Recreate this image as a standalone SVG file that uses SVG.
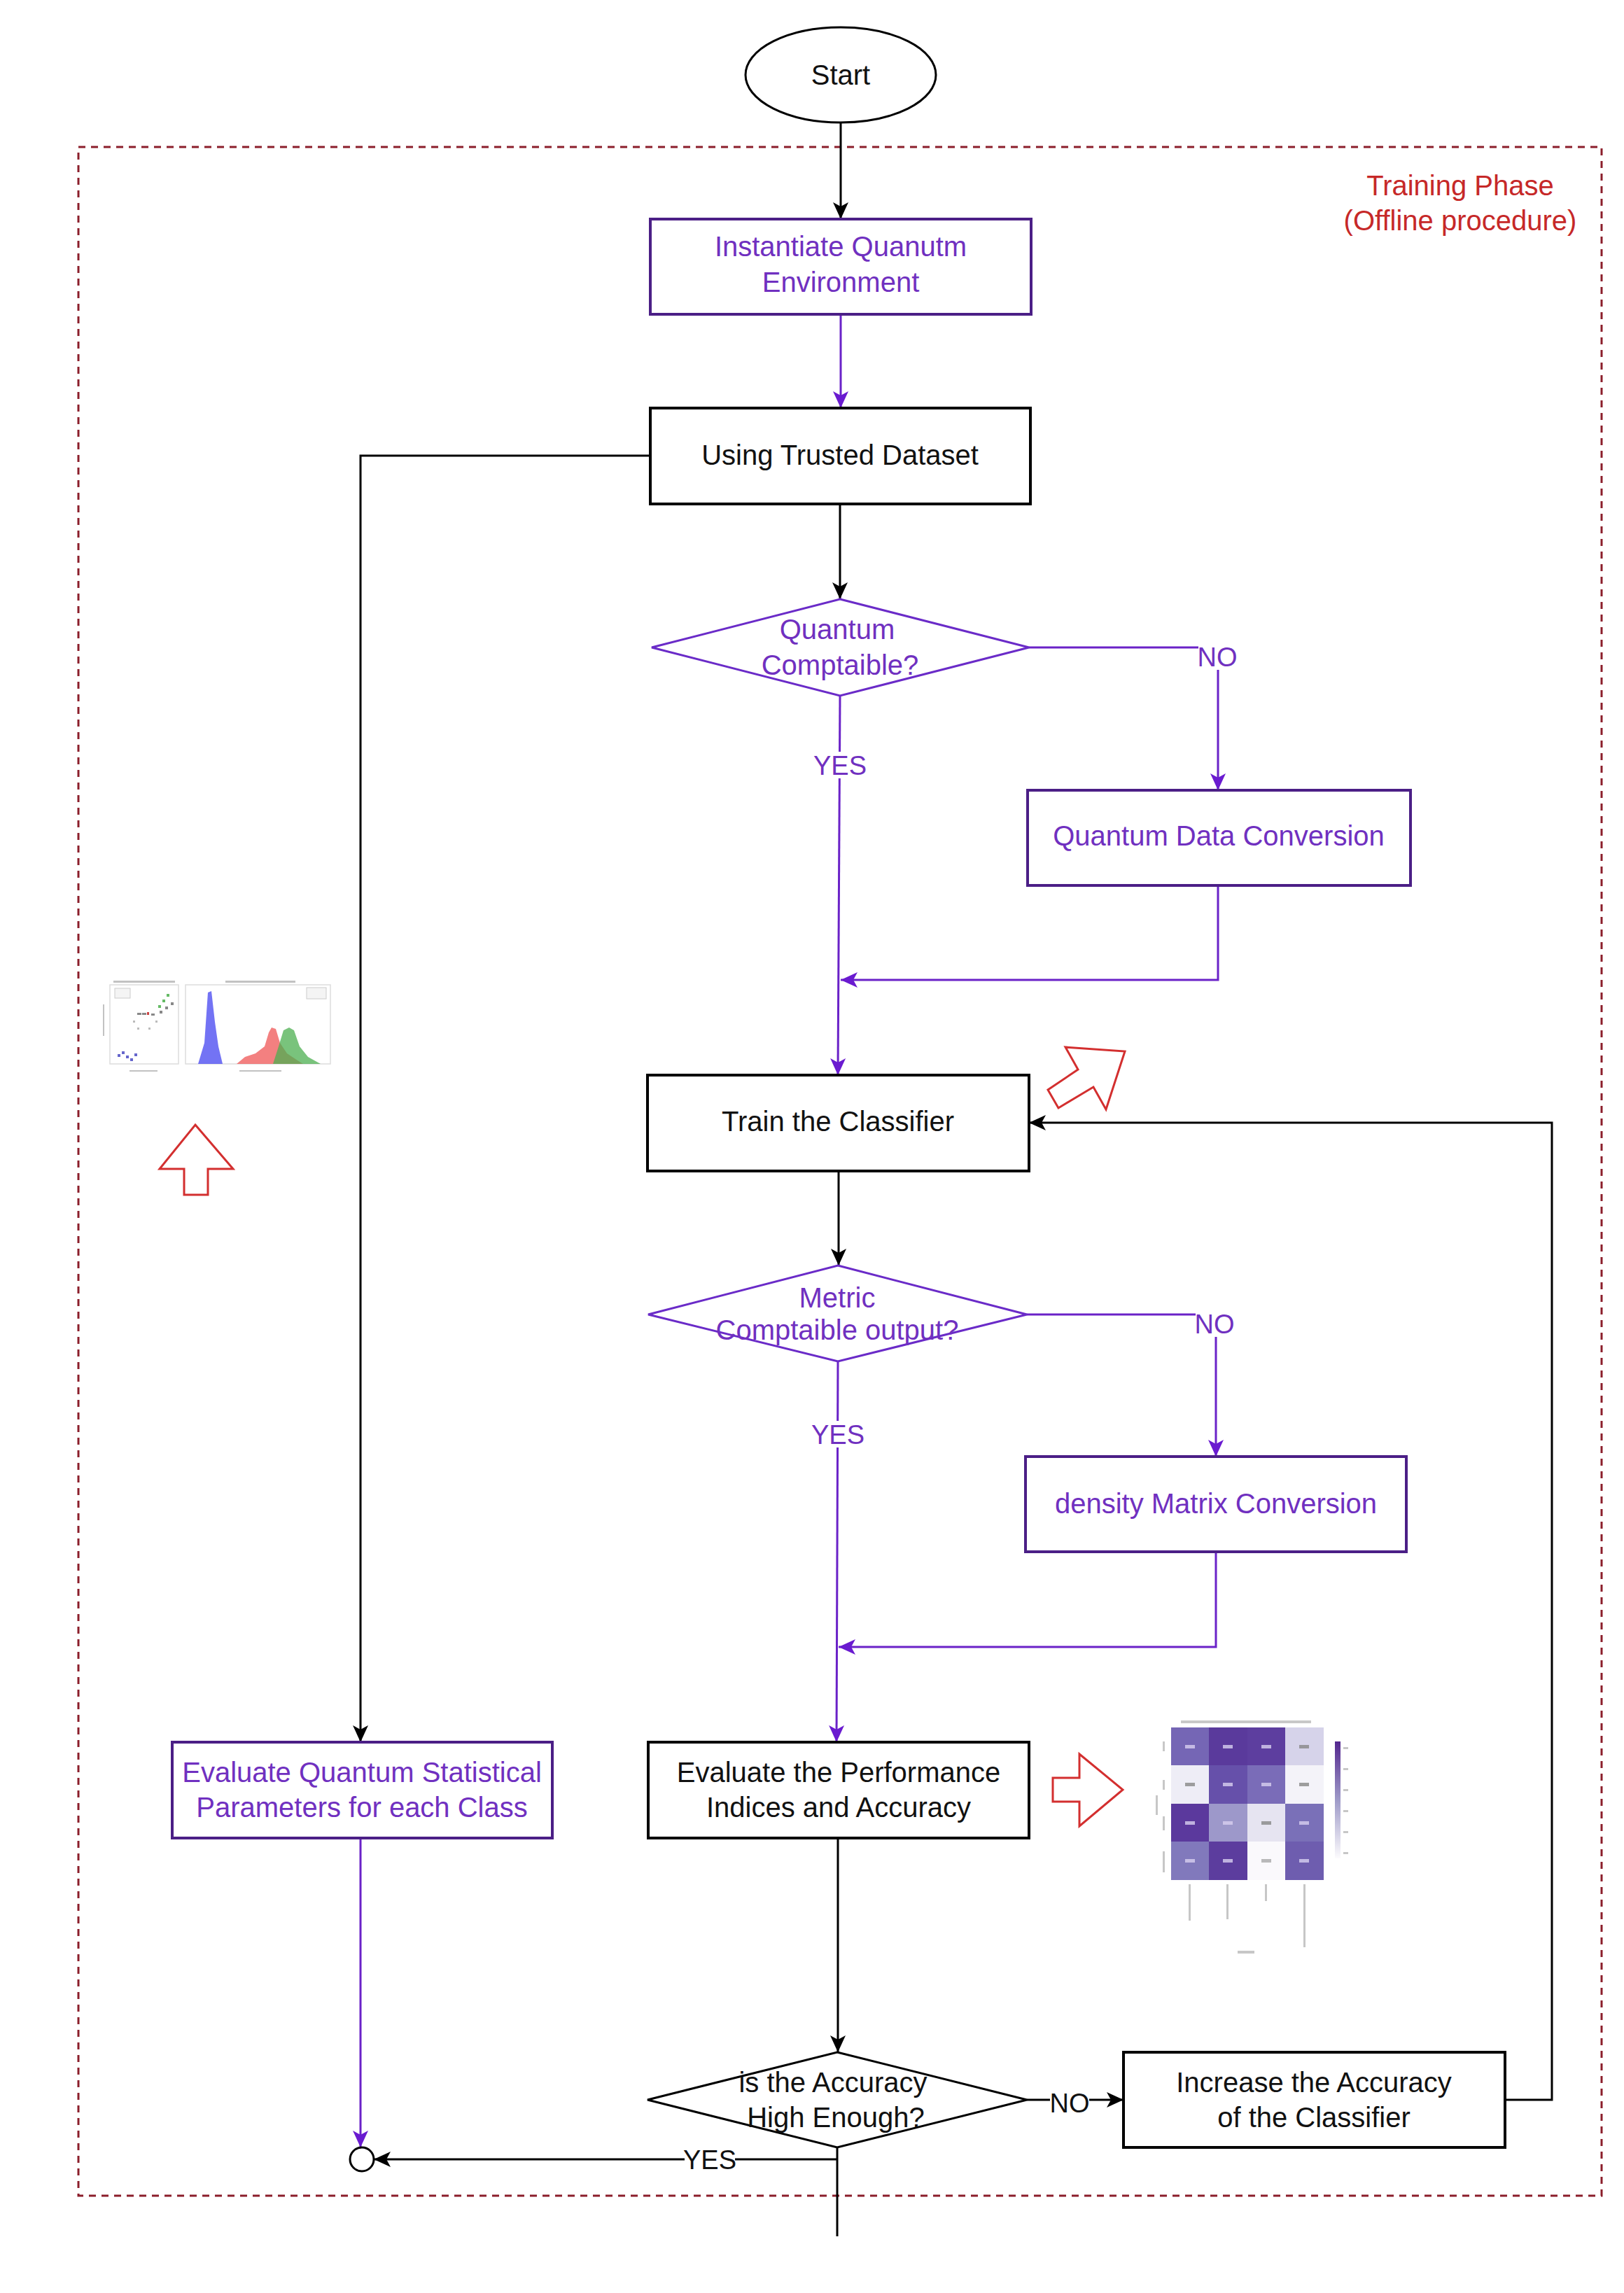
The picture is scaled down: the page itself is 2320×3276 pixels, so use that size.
<svg xmlns="http://www.w3.org/2000/svg" width="2320" height="3276" viewBox="0 0 2320 3276">
<defs>
<style>
.t{font-family:"Liberation Sans",Arial,sans-serif;font-size:40px;text-anchor:middle}
.k{fill:#111}
.p{fill:#7030C0}
.lbl{font-family:"Liberation Sans",Arial,sans-serif;font-size:38px;text-anchor:middle}
.bb{fill:#fff;stroke:#000;stroke-width:4}
.pb{fill:#fff;stroke:#4B1F86;stroke-width:4}
.pd{fill:#fff;stroke:#6A2BC8;stroke-width:3}
.bd{fill:#fff;stroke:#000;stroke-width:3}
.cb{fill:none;stroke:#000;stroke-width:3}
.cp{fill:none;stroke:#6A22C8;stroke-width:3}
.ra{fill:#fff;stroke:#D32F2F;stroke-width:3;stroke-linejoin:miter}
.g{fill:#9a9a9a}
</style>
<marker id="ab" markerUnits="userSpaceOnUse" markerWidth="26" markerHeight="24" refX="24" refY="12" orient="auto"><path d="M0,1 L24,12 L0,23 L6,12 Z" fill="#000"/></marker>
<marker id="ap" markerUnits="userSpaceOnUse" markerWidth="26" markerHeight="24" refX="24" refY="12" orient="auto"><path d="M0,1 L24,12 L0,23 L6,12 Z" fill="#6A1BD0"/></marker>
<linearGradient id="cbar" x1="0" y1="0" x2="0" y2="1"><stop offset="0" stop-color="#54278F"/><stop offset="0.5" stop-color="#9E9AC8"/><stop offset="1" stop-color="#FCFBFD"/></linearGradient>
</defs>
<rect width="2320" height="3276" fill="#fff"/>

<g id="training-phase">
<rect x="112" y="210" width="2176" height="2927" fill="none" stroke="#8B1E2B" stroke-width="3" stroke-dasharray="10 8"/>
<text x="2086" y="279" style="font-family:'Liberation Sans',Arial,sans-serif;font-size:40px;text-anchor:middle;fill:#C62828">Training Phase</text>
<text x="2086" y="329" style="font-family:'Liberation Sans',Arial,sans-serif;font-size:40px;text-anchor:middle;fill:#C62828">(Offline procedure)</text>
</g>

<g id="connectors">
<path class="cb" d="M1201,175 L1201,313" marker-end="url(#ab)"/>
<path class="cp" d="M1201,449 L1201,583" marker-end="url(#ap)"/>
<path class="cb" d="M1200,720 L1200,856" marker-end="url(#ab)"/>
<path class="cp" d="M1470,925 L1740,925 L1740,1129" marker-end="url(#ap)"/>
<path class="cp" d="M1200,994 L1197,1536" marker-end="url(#ap)"/>
<path class="cp" d="M1740,1265 L1740,1400 L1201,1400" marker-end="url(#ap)"/>
<path class="cb" d="M1198,1673 L1198,1808" marker-end="url(#ab)"/>
<path class="cp" d="M1467,1878 L1737,1878 L1737,2081" marker-end="url(#ap)"/>
<path class="cp" d="M1197,1945 L1195,2489" marker-end="url(#ap)"/>
<path class="cp" d="M1737,2217 L1737,2353 L1198,2353" marker-end="url(#ap)"/>
<path class="cb" d="M929,651 L515,651 L515,2489" marker-end="url(#ab)"/>
<path class="cb" d="M1197,2626 L1197,2932" marker-end="url(#ab)"/>
<path class="cb" d="M1467,3000 L1605,3000" marker-end="url(#ab)"/>
<path class="cb" d="M2150,3000 L2217,3000 L2217,1604 L1470,1604" marker-end="url(#ab)"/>
<path class="cb" d="M1196,3068 L1196,3195"/>
<path class="cb" d="M1196,3085 L534,3085" marker-end="url(#ab)"/>
<path class="cp" d="M515,2626 L515,3068" marker-end="url(#ap)"/>
<rect x="1712" y="919" width="56" height="38" fill="#fff"/>
<text class="lbl p" x="1739" y="952">NO</text>
<rect x="1164" y="1074" width="72" height="38" fill="#fff"/>
<text class="lbl p" x="1200" y="1107">YES</text>
<rect x="1708" y="1872" width="56" height="38" fill="#fff"/>
<text class="lbl p" x="1735" y="1905">NO</text>
<rect x="1161" y="2030" width="72" height="38" fill="#fff"/>
<text class="lbl p" x="1197" y="2063">YES</text>
<rect x="1500" y="2985" width="56" height="38" fill="#fff"/>
<text class="lbl k" x="1528" y="3018">NO</text>
<rect x="978" y="3066" width="72" height="38" fill="#fff"/>
<text class="lbl k" x="1014" y="3099">YES</text>
</g>

<g id="start">
<ellipse cx="1201" cy="107" rx="136" ry="68" fill="#fff" stroke="#000" stroke-width="3"/>
<text class="t k" x="1201" y="121">Start</text>
</g>

<g id="instantiate">
<rect class="pb" x="929" y="313" width="544" height="136"/>
<text class="t p" x="1201" y="366">Instantiate Quanutm</text>
<text class="t p" x="1201" y="417">Environment</text>
</g>

<g id="trusted-dataset">
<rect class="bb" x="929" y="583" width="543" height="137"/>
<text class="t k" x="1200" y="664">Using Trusted Dataset</text>
</g>

<g id="quantum-compatible">
<polygon class="pd" points="1200,856 1470,925 1200,994 931,925"/>
<text class="t p" x="1196" y="913">Quantum</text>
<text class="t p" x="1200" y="964">Comptaible?</text>
</g>

<g id="quantum-data-conversion">
<rect class="pb" x="1468" y="1129" width="547" height="136"/>
<text class="t p" x="1741" y="1208">Quantum Data Conversion</text>
</g>

<g id="train">
<rect class="bb" x="925" y="1536" width="545" height="137"/>
<text class="t k" x="1197" y="1616">Train the Classifier</text>
</g>

<g id="metric-compatible">
<polygon class="pd" points="1197,1808 1467,1878 1197,1945 926,1878"/>
<text class="t p" x="1196" y="1868">Metric</text>
<text class="t p" x="1196" y="1914">Comptaible output?</text>
</g>

<g id="density-matrix">
<rect class="pb" x="1465" y="2081" width="544" height="136"/>
<text class="t p" x="1737" y="2162">density Matrix Conversion</text>
</g>

<g id="eval-quantum">
<rect class="pb" x="246" y="2489" width="543" height="137"/>
<text class="t p" x="517" y="2546">Evaluate Quantum Statistical</text>
<text class="t p" x="517" y="2596">Parameters for each Class</text>
</g>

<g id="eval-performance">
<rect class="bb" x="926" y="2489" width="544" height="137"/>
<text class="t k" x="1198" y="2546">Evaluate the Performance</text>
<text class="t k" x="1198" y="2596">Indices and Accuracy</text>
</g>

<g id="accuracy">
<polygon class="bd" points="1196,2932 1467,3000 1196,3068 925,3000"/>
<text class="t k" x="1190" y="2989">is the Accuracy</text>
<text class="t k" x="1194" y="3039">High Enough?</text>
</g>

<g id="increase">
<rect class="bb" x="1605" y="2932" width="545" height="136"/>
<text class="t k" x="1877" y="2989">Increase the Accuracy</text>
<text class="t k" x="1877" y="3039">of the Classifier</text>
</g>

<g id="end">
<circle cx="517" cy="3085" r="17" fill="#fff" stroke="#000" stroke-width="3"/>
</g>

<g id="arrow-up">
<polygon class="ra" points="279,1607 333,1670 297,1670 297,1707 263,1707 263,1670 228,1670"/>
</g>
<g id="arrow-diag">
<polygon class="ra" points="1522,1496 1607,1502 1580,1585 1562,1553 1512,1583 1497,1557 1540,1528"/>
</g>
<g id="arrow-right">
<polygon class="ra" points="1504,2540 1542,2540 1542,2506 1604,2557 1542,2609 1542,2574 1504,2574"/>
</g>

<g id="plots">
<rect x="157" y="1407" width="98" height="113" fill="#fff" stroke="#ddd" stroke-width="1.5"/>
<rect x="162" y="1401" width="88" height="3" class="g" opacity="0.6"/>
<rect x="164" y="1412" width="22" height="14" fill="#f4f4f4" stroke="#ccc"/>
<rect x="147" y="1435" width="2" height="45" class="g" opacity="0.6"/>
<rect x="185" y="1529" width="40" height="2" class="g" opacity="0.6"/>
<g fill="#888">
<rect x="196" y="1447" width="6" height="3"/><rect x="203" y="1447" width="6" height="3"/><rect x="210" y="1446" width="3" height="4" fill="#c44"/><rect x="216" y="1448" width="5" height="3"/>
<rect x="226" y="1436" width="4" height="4" fill="#6b6"/><rect x="232" y="1428" width="4" height="4" fill="#6b6"/><rect x="238" y="1420" width="4" height="4" fill="#6b6"/><rect x="244" y="1432" width="4" height="4"/><rect x="236" y="1438" width="4" height="4"/><rect x="228" y="1444" width="4" height="4"/>
<rect x="168" y="1506" width="4" height="4" fill="#66c"/><rect x="174" y="1502" width="4" height="4" fill="#66c"/><rect x="180" y="1508" width="4" height="4" fill="#66c"/><rect x="186" y="1512" width="4" height="4" fill="#66c"/><rect x="192" y="1505" width="4" height="4" fill="#66c"/>
<rect x="196" y="1468" width="3" height="3" fill="#bbb"/><rect x="212" y="1468" width="3" height="3" fill="#bbb"/><rect x="190" y="1458" width="3" height="3" fill="#bbb"/><rect x="222" y="1458" width="3" height="3" fill="#bbb"/>
</g>
<rect x="265" y="1407" width="207" height="113" fill="#fff" stroke="#ddd" stroke-width="1.5"/>
<rect x="322" y="1401" width="100" height="3" class="g" opacity="0.6"/>
<rect x="438" y="1411" width="28" height="16" fill="#f4f4f4" stroke="#ccc"/>
<rect x="342" y="1529" width="60" height="2" class="g" opacity="0.6"/>
<polygon points="283,1520 292,1490 297,1418 302,1416 307,1460 312,1495 318,1520" fill="#5A5AF2" opacity="0.85"/>
<polygon points="338,1520 350,1510 365,1505 378,1495 384,1475 388,1468 394,1470 400,1490 410,1505 425,1515 433,1520" fill="#F06060" opacity="0.8"/>
<polygon points="390,1520 398,1495 405,1472 413,1468 420,1472 428,1495 440,1510 458,1520" fill="#4CAF50" opacity="0.75"/>
</g>

<g id="heatmap">
<rect x="1687" y="2458" width="186" height="4" class="g" opacity="0.55"/>
<rect x="1673" y="2468" width="55" height="55" fill="#7566B5"/>
<rect x="1727" y="2468" width="55" height="55" fill="#5A3A9C"/>
<rect x="1782" y="2468" width="55" height="55" fill="#5D3E9F"/>
<rect x="1836" y="2468" width="55" height="55" fill="#D6D3EA"/>
<rect x="1673" y="2522" width="55" height="55" fill="#EEEDF6"/>
<rect x="1727" y="2522" width="55" height="55" fill="#6650AA"/>
<rect x="1782" y="2522" width="55" height="55" fill="#7A6CB8"/>
<rect x="1836" y="2522" width="55" height="55" fill="#F4F3F9"/>
<rect x="1673" y="2577" width="55" height="55" fill="#5B399D"/>
<rect x="1727" y="2577" width="55" height="55" fill="#9D98CA"/>
<rect x="1782" y="2577" width="55" height="55" fill="#E6E4F1"/>
<rect x="1836" y="2577" width="55" height="55" fill="#7A70B8"/>
<rect x="1673" y="2631" width="55" height="55" fill="#8179BC"/>
<rect x="1727" y="2631" width="55" height="55" fill="#5C3D9E"/>
<rect x="1782" y="2631" width="55" height="55" fill="#FAF9FC"/>
<rect x="1836" y="2631" width="55" height="55" fill="#6E5DAF"/>
<g fill="#d8d0f0" opacity="0.8">
<rect x="1693" y="2493" width="14" height="5"/><rect x="1747" y="2493" width="14" height="5"/><rect x="1802" y="2493" width="14" height="5"/><rect x="1856" y="2493" width="14" height="5" fill="#888"/>
<rect x="1693" y="2547" width="14" height="5" fill="#888"/><rect x="1747" y="2547" width="14" height="5"/><rect x="1802" y="2547" width="14" height="5"/><rect x="1856" y="2547" width="14" height="5" fill="#888"/>
<rect x="1693" y="2602" width="14" height="5"/><rect x="1747" y="2602" width="14" height="5"/><rect x="1802" y="2602" width="14" height="5" fill="#888"/><rect x="1856" y="2602" width="14" height="5"/>
<rect x="1693" y="2656" width="14" height="5"/><rect x="1747" y="2656" width="14" height="5"/><rect x="1802" y="2656" width="14" height="5" fill="#aaa"/><rect x="1856" y="2656" width="14" height="5"/>
</g>
<rect x="1907" y="2488" width="8" height="167" fill="url(#cbar)"/>
<g class="g" opacity="0.55">
<rect x="1919" y="2496" width="7" height="3"/><rect x="1919" y="2526" width="7" height="3"/><rect x="1919" y="2556" width="7" height="3"/><rect x="1919" y="2586" width="7" height="3"/><rect x="1919" y="2616" width="7" height="3"/><rect x="1919" y="2646" width="7" height="3"/>
<rect x="1661" y="2488" width="3" height="14"/><rect x="1661" y="2543" width="3" height="14"/><rect x="1661" y="2595" width="3" height="20"/><rect x="1661" y="2645" width="3" height="30"/>
<rect x="1651" y="2565" width="3" height="28"/>
<rect x="1698" y="2692" width="3" height="52"/><rect x="1752" y="2692" width="3" height="50"/><rect x="1807" y="2692" width="3" height="24"/><rect x="1862" y="2692" width="3" height="90"/>
<rect x="1768" y="2787" width="24" height="4"/>
</g>
</g>
</svg>
